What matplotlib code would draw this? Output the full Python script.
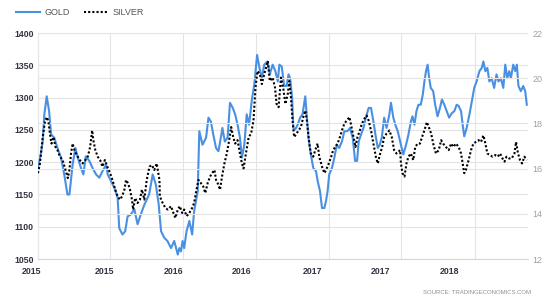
import matplotlib
matplotlib.use("Agg")
import matplotlib.pyplot as plt
import matplotlib.dates as mdates
import matplotlib.transforms as mtransforms
import pandas as pd

plt.rcParams['font.family'] = ['Liberation Sans', 'DejaVu Sans']

start = pd.Timestamp('2015-01-01')

# gold, USD/oz (left axis); days counted from 2015-01-01
gold_days = [0, 7, 12, 16, 22, 28, 33, 41, 49, 58, 66, 74, 79, 87, 94, 100, 108, 114,
             120, 129, 137, 146, 154, 162, 171, 175, 183, 192, 200, 204, 212, 219, 225,
             233, 242, 250, 258, 267, 279, 288, 296, 303, 309, 317, 325, 334, 342, 351,
             355, 359, 363, 367, 373, 380, 387, 392, 401, 405, 413, 422, 428, 434, 440,
             447, 453, 459, 463, 469, 476, 482, 489, 495, 501, 507, 512, 518, 524, 530,
             537, 543, 550, 556, 562, 568, 576, 582, 589, 596, 602, 606, 612, 618, 624,
             629, 633, 638, 641, 646, 652, 658, 664, 671, 675, 679, 685, 691, 698, 702,
             708, 713, 719, 723, 727, 731, 738, 744, 750, 756, 763, 769, 777, 783, 790,
             796, 801, 805, 811, 817, 823, 830, 836, 842, 847, 853, 858, 863, 869, 875,
             882, 886, 892, 897, 903, 905, 911, 917, 924, 930, 936, 940, 945, 950, 955,
             961, 966, 970, 974, 978, 982, 986, 992, 997, 1003, 1009, 1014, 1020, 1026,
             1032, 1039, 1045, 1051, 1056, 1062, 1066, 1070, 1076, 1083, 1089, 1095,
             1101, 1108, 1114, 1118, 1123, 1128, 1133, 1139, 1145, 1151, 1156, 1162,
             1168, 1173, 1178, 1183, 1187, 1193, 1198, 1202, 1206, 1212, 1218, 1223, 1227]
gold = [1191, 1212, 1232, 1274, 1302, 1279, 1243, 1238, 1222, 1207, 1181, 1150, 1150,
        1196, 1222, 1207, 1191, 1181, 1209, 1202, 1191, 1181, 1176, 1186, 1196, 1181,
        1171, 1160, 1145, 1098, 1088, 1093, 1116, 1119, 1127, 1104, 1119, 1134, 1150,
        1181, 1165, 1135, 1093, 1083, 1078, 1067, 1078, 1057, 1067, 1062, 1078, 1067,
        1093, 1109, 1088, 1124, 1155, 1248, 1227, 1238, 1269, 1263, 1243, 1222, 1217,
        1238, 1253, 1232, 1238, 1292, 1284, 1274, 1258, 1238, 1207, 1227, 1274, 1258,
        1297, 1320, 1366, 1346, 1330, 1351, 1356, 1336, 1351, 1341, 1325, 1351, 1348,
        1318, 1318, 1336, 1330, 1299, 1253, 1251, 1258, 1269, 1274, 1302, 1269, 1238,
        1212, 1191, 1186, 1171, 1155, 1129, 1129, 1140, 1155, 1181, 1191, 1207, 1227,
        1222, 1232, 1248, 1248, 1253, 1238, 1202, 1202, 1232, 1243, 1253, 1269, 1284,
        1284, 1263, 1243, 1222, 1227, 1238, 1269, 1253, 1274, 1292, 1269, 1258, 1248,
        1243, 1227, 1212, 1227, 1243, 1263, 1271, 1258, 1279, 1289, 1289, 1305, 1325,
        1341, 1351, 1330, 1315, 1310, 1289, 1271, 1284, 1297, 1289, 1279, 1269, 1276,
        1279, 1289, 1287, 1279, 1258, 1240, 1253, 1274, 1294, 1315, 1325, 1341, 1346,
        1356, 1341, 1346, 1325, 1330, 1315, 1336, 1325, 1330, 1315, 1351, 1330, 1341,
        1330, 1351, 1341, 1351, 1318, 1310, 1318, 1310, 1289]

# silver, USD/oz (right axis)
silver_days = [0, 5, 12, 18, 23, 27, 30, 34, 39, 44, 49, 55, 62, 69, 75, 79, 83, 87,
               93, 100, 105, 112, 119, 125, 131, 136, 139, 144, 150, 156, 162, 168, 174,
               181, 187, 194, 200, 206, 211, 217, 221, 226, 231, 236, 239, 244, 250, 256,
               261, 267, 273, 280, 286, 292, 298, 305, 306, 313, 320, 326, 334, 340, 345,
               351, 356, 362, 367, 373, 380, 387, 392, 398, 403, 409, 415, 420, 426, 432,
               437, 443, 447, 451, 457, 462, 468, 474, 480, 485, 490, 495, 501, 507, 512,
               516, 522, 529, 535, 541, 546, 551, 557, 562, 568, 577, 582, 589, 595, 599,
               604, 610, 616, 621, 627, 631, 635, 639, 643, 649, 654, 660, 666, 671, 675,
               681, 685, 691, 696, 702, 706, 713, 719, 723, 730, 736, 741, 746, 752, 758,
               763, 769, 775, 782, 787, 792, 797, 802, 808, 813, 819, 825, 830, 836, 842,
               848, 853, 859, 864, 869, 875, 882, 888, 894, 900, 909, 911, 915, 920, 925,
               930, 936, 942, 947, 953, 959, 964, 970, 976, 981, 987, 992, 999, 1006,
               1012, 1017, 1024, 1031, 1037, 1043, 1049, 1056, 1062, 1066, 1070, 1074,
               1081, 1087, 1093, 1099, 1106, 1112, 1118, 1123, 1128, 1135, 1141, 1148,
               1154, 1160, 1166, 1171, 1176, 1183, 1189, 1196, 1200, 1205, 1210, 1215,
               1221, 1227]
silver = [15.80, 16.23, 17.40, 18.13, 18.28, 17.99, 17.55, 17.11, 17.40, 16.96, 16.82,
          16.53, 16.38, 15.94, 15.58, 15.94, 16.67, 17.11, 16.74, 16.53, 16.38, 16.23,
          16.38, 16.53, 16.96, 17.69, 17.26, 16.82, 16.53, 16.38, 16.09, 16.38, 16.09,
          15.80, 15.50, 15.07, 14.77, 14.63, 14.77, 15.07, 15.50, 15.36, 15.07, 14.63,
          14.19, 14.70, 14.48, 14.63, 15.07, 14.63, 15.50, 16.09, 16.16, 15.94, 16.23,
          15.50, 14.77, 14.48, 14.26, 14.19, 14.34, 14.04, 13.82, 14.19, 14.34, 14.04,
          14.19, 13.90, 14.04, 14.26, 14.48, 15.07, 15.50, 15.36, 15.21, 14.92, 15.36,
          15.65, 15.80, 15.94, 15.50, 15.36, 15.07, 15.65, 16.23, 16.67, 17.26, 17.84,
          17.40, 17.11, 17.26, 16.67, 16.23, 16.01, 16.67, 17.40, 17.55, 18.13, 19.59,
          20.32, 20.18, 19.74, 20.18, 20.76, 19.88, 20.03, 19.59, 18.86, 18.72, 20.03,
          19.52, 18.86, 19.30, 19.88, 19.15, 18.13, 17.40, 17.55, 17.69, 17.84, 18.28,
          18.57, 18.13, 17.11, 16.67, 16.53, 16.82, 17.11, 16.53, 16.09, 15.80, 15.94,
          16.23, 16.53, 16.82, 16.96, 17.11, 17.40, 17.69, 17.99, 18.13, 18.28, 17.84,
          17.40, 16.96, 17.40, 17.69, 17.99, 18.20, 18.35, 18.13, 17.69, 17.11, 16.53,
          16.23, 16.67, 16.96, 17.40, 17.55, 17.69, 17.40, 16.82, 16.67, 16.82, 16.23,
          15.80, 15.65, 16.23, 16.53, 16.67, 16.38, 16.96, 17.11, 17.11, 17.40, 17.69,
          18.06, 17.84, 17.55, 17.11, 16.67, 16.82, 17.26, 17.11, 16.96, 16.82, 17.11,
          16.96, 17.11, 16.96, 16.67, 16.23, 15.80, 15.94, 16.38, 16.82, 17.11, 17.18,
          17.26, 17.18, 17.47, 17.11, 16.67, 16.60, 16.53, 16.60, 16.53, 16.67, 16.45,
          16.31, 16.53, 16.45, 16.45, 16.67, 17.18, 16.67, 16.38, 16.23, 16.53, 16.38]

x_labels = ['2015', '2015', '2016', '2016', '2017', '2017', '2018']
x_label_days = [-15, 166, 341, 512, 688, 861, 1032]

gold_dates = start + pd.to_timedelta(gold_days, unit='D')
silver_dates = start + pd.to_timedelta(silver_days, unit='D')
label_dates = start + pd.to_timedelta(x_label_days, unit='D')

fig = plt.figure(figsize=(5.5, 3.03), dpi=100)
ax = fig.add_axes([0.069, 0.145, 0.891, 0.746])
ax2 = ax.twinx()

grid_col = '#e4e4e4'
ax.plot(gold_dates, gold, color='#4a90e2', lw=1.5, label='GOLD', zorder=3)
ax2.plot(silver_dates, silver, color='black', lw=1.5, ls=(0, (1, 1)), label='SILVER', zorder=3)

ax.set_ylim(1050, 1400)
ax.set_yticks(range(1050, 1401, 50))
ax2.set_ylim(12, 22)
ax2.set_yticks(range(12, 23, 2))
ax.set_xlim(start, start + pd.Timedelta(days=1230))

ax.xaxis.set_major_locator(mdates.MonthLocator(bymonth=(1, 7)))
ax.set_xticklabels([])
ax.grid(True, color=grid_col, lw=0.8)
ax2.grid(True, axis='y', color=grid_col, lw=0.8)
ax.set_axisbelow(True)

ax.tick_params(axis='y', length=0, pad=3, labelsize=6.3, labelcolor='#333344')
ax.tick_params(axis='x', length=0)
ax2.tick_params(axis='y', length=0, pad=3, labelsize=6.5, labelcolor='#a0a0a0')
for lab in ax.get_yticklabels():
    lab.set_fontweight('bold')

for a in (ax, ax2):
    for s in a.spines.values():
        s.set_visible(False)
ax.spines['bottom'].set_visible(True)
ax.spines['bottom'].set_color('#d8d8d8')
ax.spines['left'].set_visible(True)
ax.spines['left'].set_color('#e8e8e8')

trans = mtransforms.blended_transform_factory(ax.transData, ax.transAxes)
for d, t in zip(label_dates, x_labels):
    ax.text(d, -0.035, t, transform=trans, ha='center', va='top', fontsize=6.3,
            fontweight='bold', color='#333344', clip_on=False)

h1, l1 = ax.get_legend_handles_labels()
h2, l2 = ax2.get_legend_handles_labels()
fig.legend(h1 + h2, l1 + l2, loc='upper left', bbox_to_anchor=(0.015, 1.0), ncol=2,
           frameon=False, fontsize=6.5, handlelength=2.6, columnspacing=1.6,
           handletextpad=0.5, labelcolor='#555555')

fig.text(0.965, 0.025, 'SOURCE: TRADINGECONOMICS.COM', ha='right', va='bottom',
         fontsize=4.3, color='#909090')

fig.savefig('out.png', dpi=100)
